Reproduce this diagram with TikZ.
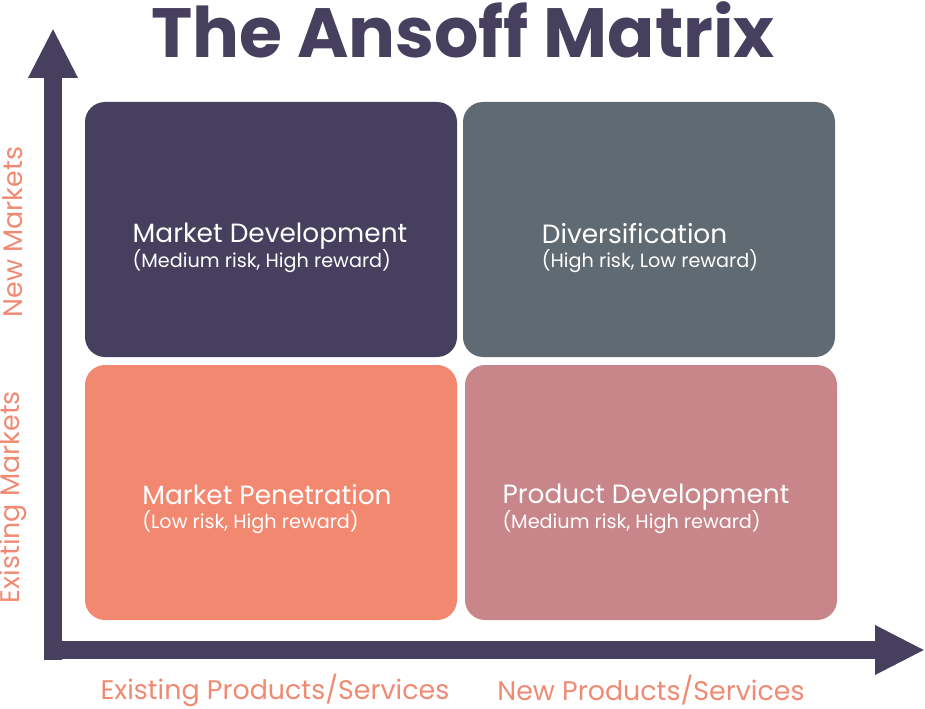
\documentclass[tikz,border=0pt]{standalone}
\usepackage{fontspec}
\setmainfont{Poppins}
\usetikzlibrary{arrows.meta}
\definecolor{plum}{HTML}{463F5E}
\definecolor{slate}{HTML}{5F6A73}
\definecolor{salmon}{HTML}{F38870}
\definecolor{rose}{HTML}{C8868A}
\definecolor{labelc}{HTML}{F08A72}
\tikzset{
  quad/.style={rounded corners=20bp},
  quadtext/.style={text=white,align=left,font=\fontsize{26.5}{28}\selectfont},
  axislabel/.style={text=labelc,inner sep=1bp,font=\fontsize{27}{29}\selectfont},
  axis/.style={plum,line width=18bp,-{Triangle[length=50bp,width=46bp]}}
}
\newcommand{\quadlabel}[2]{#1\\[-3bp]{\fontsize{19.3}{21}\selectfont #2}}
\begin{document}
\begin{tikzpicture}[x=1bp,y=-1bp]
\useasboundingbox (0,0) rectangle (925,709);
% quadrants
\fill[quad,plum] (85,102) rectangle (457,357);
\fill[quad,slate] (463,102) rectangle (835,357);
\fill[quad,salmon] (85,365) rectangle (457,620);
\fill[quad,rose] (465,365) rectangle (837,620);
\node[quadtext] (md) at (270,248) {\quadlabel{Market Development}{(Medium risk, High reward)}};
\node[quadtext] (dv) at (650,248) {\quadlabel{Diversification}{(High risk, Low reward)}};
\node[quadtext] (mp) at (267,509) {\quadlabel{Market Penetration}{(Low risk, High reward)}};
\node[quadtext] (pd) at (646,509) {\quadlabel{Product Development}{(Medium risk, High reward)}};
% axes
\coordinate (origin) at (53,660);
\coordinate (ytip) at (53,28);
\coordinate (xstart) at (45,650);
\coordinate (xtip) at (925,650);
\draw[axis] (origin) -- (ytip);
\draw[axis] (xstart) -- (xtip);
% labels
\node[text=plum,font=\fontsize{70}{76}\selectfont\bfseries] (title) at (463,30) {The Ansoff Matrix};
\node[axislabel,rotate=90] (nm) at (13,232) {New Markets};
\node[axislabel,rotate=90] (em) at (13,497) {Existing Markets};
\node[axislabel] (ep) at (275,690) {Existing Products/Services};
\node[axislabel] (np) at (651,690) {New Products/Services};
\end{tikzpicture}
\end{document}
